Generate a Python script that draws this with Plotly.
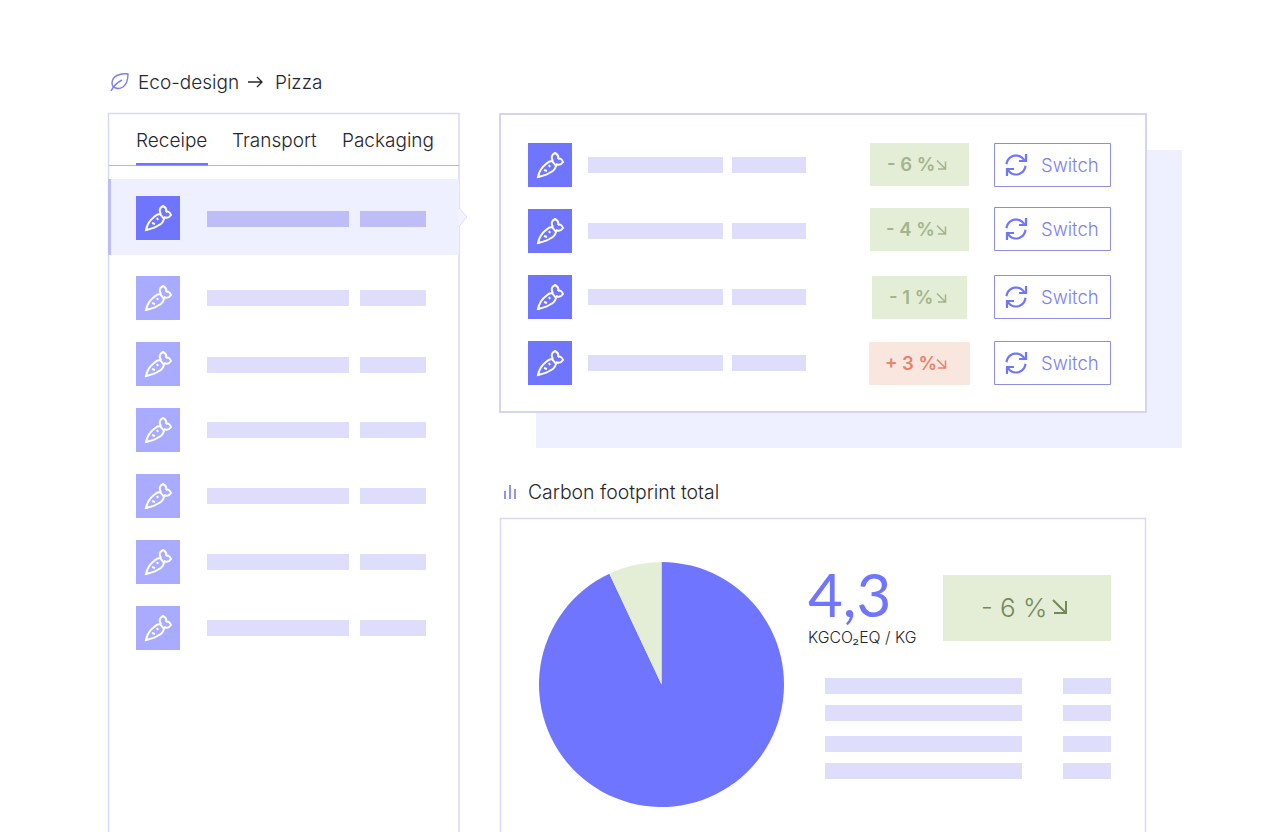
import math
import plotly.graph_objects as go

# data
breadcrumb = ['Eco-design', 'Pizza']
tabs = ['Receipe', 'Transport', 'Packaging']
deltas = ['- 6 %', '- 4 %', '- 1 %', '+ 3 %']
switch_label = 'Switch'
chart_title = 'Carbon footprint total'
total_value = '4,3'
total_unit = 'KGCO₂EQ / KG'
total_delta = '- 6 %'
pie_labels = ['Other', 'Ingredient']
pie_values = [93, 7]

BLUE = '#6f75ff'
LIGHT_BLUE = '#a8abff'
BORDER = '#d9d9f5'
PALE = '#eef0ff'
BAR = '#dfddfc'
BAR_DARK = '#bfbdf8'
GREEN = '#e4eed6'
RED = '#f9e6de'
INK = '#26262e'
FONT = 'Inter'

shapes = []
annotations = []


def rect(x0, y0, x1, y1, fill=None, line=None, width=1):
    shapes.append(dict(type='rect', x0=x0, y0=y0, x1=x1, y1=y1, xref='x', yref='y',
                       fillcolor=fill or 'rgba(0,0,0,0)',
                       line=dict(color=line or 'rgba(0,0,0,0)', width=width if line else 0)))


def path(d, color, width=1.5, fill=None):
    shapes.append(dict(type='path', path=d, xref='x', yref='y', fillcolor=fill or 'rgba(0,0,0,0)',
                       line=dict(color=color, width=width)))


def text(x, y, s, size, color=INK, weight=300, anchor='left', family=FONT):
    annotations.append(dict(x=x, y=y, xref='x', yref='y', text=s, showarrow=False, xanchor=anchor, yanchor='middle',
                            borderpad=0, font=dict(family=family, size=size, color=color, weight=weight)))


def carrot(x, y, color):
    rect(x, y, x + 44, y + 44, fill=color)
    pts = [
        'M10,34 C11,29 14,24 18,21 C20,19 23,18 24,18 L28,23 C27,26 26,28 23,29 C19,32 14,33 10,34 Z',
        'M25,18 C23,15 23,12 27,10 C29,11 31,13 30,16',
        'M30,16 C32,15 34,16 35,19 C33,22 30,22 28,21',
        'M16,27 L19,28',
        'M21,22 L22,24',
    ]
    for p in pts:
        out = []
        for tok in p.split():
            cmd = tok[0] if tok[0].isalpha() else ''
            nums = tok[1:] if cmd else tok
            if cmd == 'Z':
                out.append('Z')
                continue
            a, b = nums.split(',')
            out.append(f'{cmd}{float(a) + x},{float(b) + y}')
        path(' '.join(out), 'white', 2)


def refresh(cx, cy):
    r = 9.5
    for start, stop in [(185, 335), (5, 155)]:
        pts = []
        for i in range(17):
            a = math.radians(start + (stop - start) * i / 16)
            pts.append((cx + r * math.cos(a), cy + r * math.sin(a)))
        path('M' + ' L'.join(f'{px:.1f},{py:.1f}' for px, py in pts), BLUE, 2.2)
    path(f'M{cx + 10},{cy - 11} L{cx + 10},{cy - 4} L{cx + 3},{cy - 4}', BLUE, 2.2)
    path(f'M{cx - 9},{cy + 11} L{cx - 9},{cy + 4} L{cx - 2},{cy + 4}', BLUE, 2.2)


def down_arrow(x, y, size, color, width=1.5):
    path(f'M{x},{y} L{x + size},{y + size} M{x + size},{y + 1} L{x + size},{y + size} L{x + 1},{y + size}',
         color, width)


# breadcrumb
path('M128,74 C120,73 112,76 112,83 C112,88 118,90 123,87 C127,84 128,79 128,74 Z', '#7a7ff0', 1.4)
path('M111,91 C114,85 118,82 122,80', '#7a7ff0', 1.4)
text(137, 82, breadcrumb[0], 19)
path('M248,82 L262,82 M257,77 L262,82 L257,87', INK, 1.3)
text(274, 82, breadcrumb[1], 19)

# left panel
rect(108.5, 113.5, 459, 860, line=BORDER, width=1.5)
rect(109, 165, 459, 166, fill='#b8b5e0')
rect(136, 163, 208, 165.5, fill=BLUE)
for x, s in zip([135, 231, 341], tabs):
    text(x, 140, s, 19)

rect(109, 179, 459, 255, fill=PALE)
rect(108, 179, 111, 255, fill=BAR_DARK)
path('M459,208 L467,217 L459,226 Z', '#dcdcf8', 1, fill='#f2f3ff')
rect(458, 209, 460, 225, fill='#f2f3ff')
carrot(136, 196, BLUE)
rect(207, 211, 349, 227, fill=BAR_DARK)
rect(360, 211, 426, 227, fill=BAR_DARK)

for y, bar_y in zip([276, 342, 408, 474, 540, 606], [290, 357, 422, 488, 554, 620]):
    carrot(136, y, LIGHT_BLUE)
    rect(207, bar_y, 349, bar_y + 16, fill=BAR)
    rect(360, bar_y, 426, bar_y + 16, fill=BAR)

# alternatives panel
rect(536, 150, 1182, 448, fill=PALE)
rect(500, 114, 1146, 412, fill='white', line='#d5d5f3', width=2)
icon_y = [143, 209, 275, 341]
badge_boxes = [(870, 143, 969, 186), (870, 208, 969, 251), (872, 276, 967, 319), (869, 342, 970, 385)]
button_y = [143, 207, 275, 341]
for i, s in enumerate(deltas):
    y = icon_y[i]
    carrot(528, y, BLUE)
    rect(588, y + 14, 723, y + 30, fill=BAR)
    rect(732, y + 14, 806, y + 30, fill=BAR)
    x0, y0, x1, y1 = badge_boxes[i]
    up = s.startswith('+')
    rect(x0, y0, x1, y1, fill=RED if up else GREEN)
    color = '#e8836a' if up else '#a3b48a'
    mid = (y0 + y1) / 2
    text(910.5, mid - 0.5, s, 18.5, color=color, weight=600, anchor='center')
    down_arrow(937, mid - 4, 8.5, color)
    by = button_y[i]
    rect(994.5, by + 0.5, 1110.5, by + 43.5, fill='white', line='#8e8ee0', width=1)
    refresh(1016, by + 22)
    text(1040, by + 22, switch_label, 18.5, color='#7c7ff0')

# carbon footprint
for x, y0 in [(505, 491), (510, 485), (515, 489)]:
    path(f'M{x},{y0} L{x},499', '#8488f5', 1.8)
text(527, 492, chart_title, 19.4)
rect(500.5, 518.5, 1145.5, 860, line=BORDER, width=1.5)
text(807, 594, total_value, 60, color=BLUE, weight=400, family='Lato')
text(807, 637, total_unit, 15.8)
rect(943, 575, 1111, 641, fill=GREEN)
text(1014, 607, total_delta, 26, color='#76885a', weight=300, anchor='center')
down_arrow(1053, 600, 13, '#76885a', 2)
for y in [678, 705, 736, 763]:
    rect(825, y, 1022, y + 16, fill=BAR)
    rect(1063, y, 1111, y + 16, fill=BAR)

pie = go.Pie(labels=pie_labels, values=pie_values, sort=False, direction='clockwise', rotation=0,
             textinfo='none', hoverinfo='skip', showlegend=False,
             marker=dict(colors=[BLUE, GREEN], line=dict(width=0)),
             domain=dict(x=[539 / 1280, 784 / 1280], y=[1 - 807 / 832, 1 - 562 / 832]))

# invisible trace, only there so the pixel axes exist for the shapes
anchor = go.Scatter(x=[0, 1280], y=[0, 832], mode='none', hoverinfo='skip', showlegend=False)

layout = go.Layout(width=1280, height=832, margin=dict(l=0, r=0, t=0, b=0, pad=0),
                   paper_bgcolor='white', plot_bgcolor='white', showlegend=False,
                   xaxis=dict(range=[0, 1280], visible=False, fixedrange=True),
                   yaxis=dict(range=[832, 0], visible=False, fixedrange=True),
                   shapes=shapes, annotations=annotations)

fig = go.Figure(data=[anchor, pie], layout=layout)
fig.write_html('out.html', config={'displayModeBar': False},
               post_script="document.body.style.margin='0';document.body.style.overflow='hidden';")
